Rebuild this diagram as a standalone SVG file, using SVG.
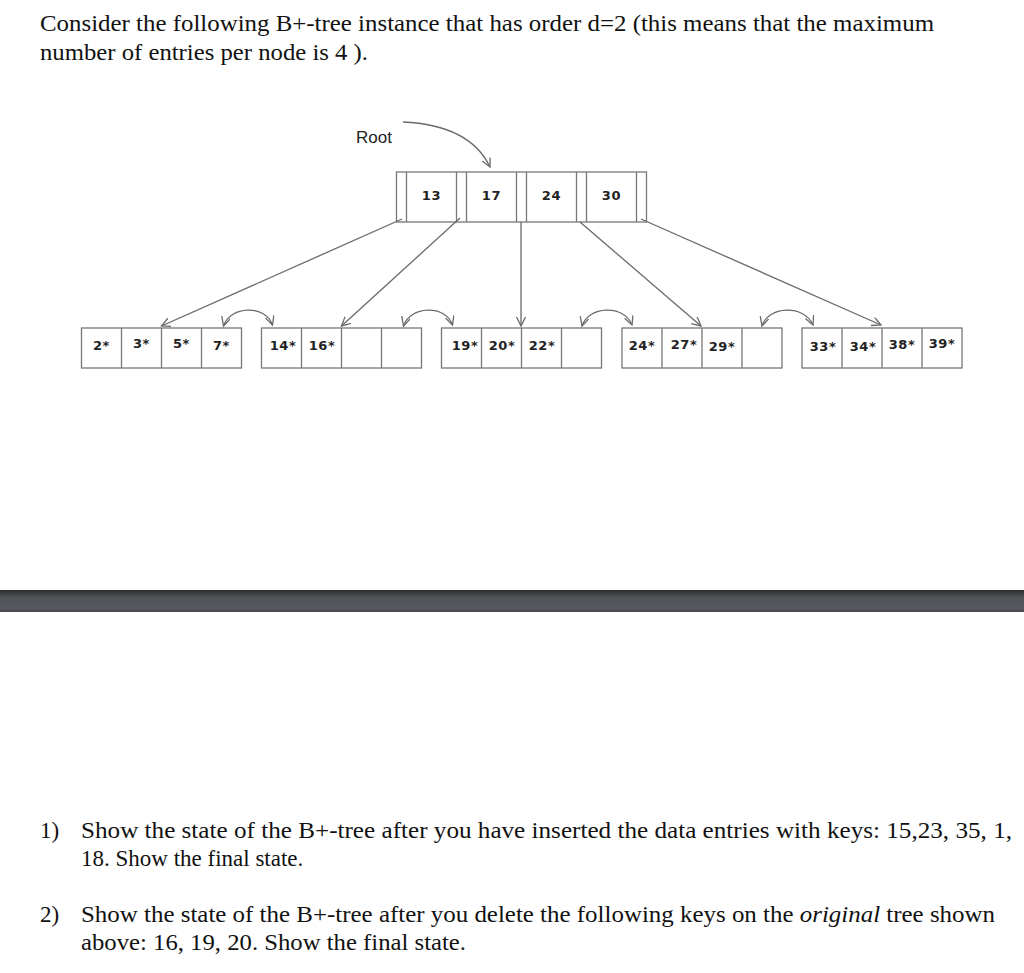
<svg xmlns="http://www.w3.org/2000/svg" width="1024" height="973" viewBox="0 0 1024 973">
<style>
.t{font-family:"Liberation Serif","Times New Roman",serif;font-size:23px;fill:#111}
.k{font-family:"DejaVu Sans",sans-serif;font-size:13px;font-weight:bold;fill:#222;text-anchor:middle;letter-spacing:0.6px}
.box{fill:#fff;stroke:#777;stroke-width:1.3}
.ln{stroke:#777;stroke-width:1.3;fill:none}
.c{stroke:#6a6a6a;stroke-width:1.3;fill:none}
.lbl{font-family:"Liberation Sans",Arial,sans-serif;font-size:17px;fill:#222}
</style>
<defs>
<marker id="ah" markerWidth="12" markerHeight="12" refX="9" refY="4.5" orient="auto-start-reverse" markerUnits="userSpaceOnUse">
<path d="M0,0 L9,4.5 L0,9" fill="none" stroke="#6a6a6a" stroke-width="1.3"/>
</marker>
<linearGradient id="bar" x1="0" y1="0" x2="0" y2="1">
<stop offset="0" stop-color="#2c2c2e"/>
<stop offset="0.35" stop-color="#505458"/>
<stop offset="0.85" stop-color="#54575b"/>
<stop offset="1" stop-color="#48484c"/>
</linearGradient>
</defs>
<rect width="1024" height="973" fill="#fff"/>

<text class="t" x="40" y="31" textLength="894" lengthAdjust="spacingAndGlyphs">Consider the following B+-tree instance that has order d=2 (this means that the maximum</text>
<text class="t" x="40" y="60" textLength="328" lengthAdjust="spacingAndGlyphs">number of entries per node is 4 ).</text>

<g id="root-label"><text class="lbl" x="356" y="143">Root</text></g>

<g id="root">
<rect class="box" x="396.5" y="172" width="250" height="50"/>
<path class="ln" d="M406.5,172V222M456.5,172V222M466.5,172V222M516.5,172V222M526.5,172V222M576.5,172V222M586.5,172V222M636.5,172V222"/>
<text class="k" x="431.5" y="200">13</text>
<text class="k" x="491.5" y="200">17</text>
<text class="k" x="551.5" y="200">24</text>
<text class="k" x="611.5" y="200">30</text>
</g>

<g id="leaf1">
<rect class="box" x="81.5" y="328" width="160" height="40"/>
<path class="ln" d="M121.5,328V368M161.5,328V368M201.5,328V368"/>
<text class="k" x="101.5" y="350">2*</text>
<text class="k" x="141.5" y="348">3*</text>
<text class="k" x="181.5" y="348">5*</text>
<text class="k" x="221.5" y="350">7*</text>
</g>
<g id="leaf2">
<rect class="box" x="261.5" y="328" width="160" height="40"/>
<path class="ln" d="M301.5,328V368M341.5,328V368M381.5,328V368"/>
<text class="k" x="283" y="350">14*</text>
<text class="k" x="322" y="350">16*</text>
</g>
<g id="leaf3">
<rect class="box" x="441.5" y="328" width="160" height="40"/>
<path class="ln" d="M481.5,328V368M521.5,328V368M561.5,328V368"/>
<text class="k" x="465" y="350">19*</text>
<text class="k" x="502" y="350">20*</text>
<text class="k" x="542" y="350">22*</text>
</g>
<g id="leaf4">
<rect class="box" x="622" y="328" width="160" height="40"/>
<path class="ln" d="M662,328V368M702,328V368M742,328V368"/>
<text class="k" x="642" y="350">24*</text>
<text class="k" x="684" y="349">27*</text>
<text class="k" x="722" y="351">29*</text>
</g>
<g id="leaf5">
<rect class="box" x="802" y="328" width="160" height="40"/>
<path class="ln" d="M842,328V368M882,328V368M922,328V368"/>
<text class="k" x="823" y="351">33*</text>
<text class="k" x="863" y="351">34*</text>
<text class="k" x="902" y="349">38*</text>
<text class="k" x="942" y="348">39*</text>
</g>

<g id="connectors">
<path class="c" d="M403,122 Q470,125 490,167" marker-end="url(#ah)"/>
<path class="c" d="M402,219 L161.5,326" marker-end="url(#ah)"/>
<path class="c" d="M460,218 L341.5,326" marker-end="url(#ah)"/>
<path class="c" d="M521,222 L521,326" marker-end="url(#ah)"/>
<path class="c" d="M580,222 L701,326" marker-end="url(#ah)"/>
<path class="c" d="M641,219 L881,325" marker-end="url(#ah)"/>
<path class="c" d="M223.5,326 C229.5,306 265.5,304 272.5,325" marker-start="url(#ah)" marker-end="url(#ah)"/>
<path class="c" d="M403.5,326 C409.5,306 445.5,304 452.5,325" marker-start="url(#ah)" marker-end="url(#ah)"/>
<path class="c" d="M582,326 C588,306 624,304 632,325" marker-start="url(#ah)" marker-end="url(#ah)"/>
<path class="c" d="M762,326 C768,306 804,304 813,325" marker-start="url(#ah)" marker-end="url(#ah)"/>
</g>

<rect x="0" y="590" width="1024" height="22" fill="url(#bar)"/>

<text class="t" x="40" y="838">1)</text>
<text class="t" x="81" y="838" textLength="931" lengthAdjust="spacingAndGlyphs">Show the state of the B+-tree after you have inserted the data entries with keys:  15,23, 35, 1,</text>
<text class="t" x="81" y="866">18. Show the final state.</text>
<text class="t" x="40" y="922">2)</text>
<text class="t" x="81" y="922" textLength="914" lengthAdjust="spacingAndGlyphs">Show the state of the B+-tree after you delete the following keys on the <tspan font-style="italic">original</tspan> tree shown</text>
<text class="t" x="81" y="950" textLength="385" lengthAdjust="spacingAndGlyphs">above: 16, 19, 20. Show the final state.</text>
</svg>
